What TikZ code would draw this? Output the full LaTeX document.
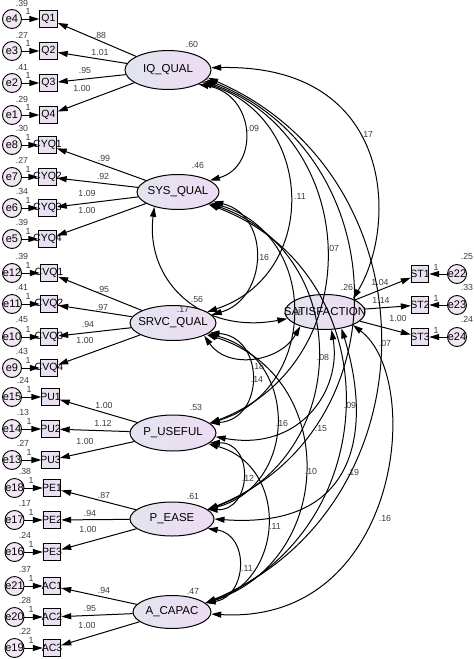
\documentclass[tikz,border=0pt]{standalone}
\usepackage{fontspec}
\setmainfont{Liberation Sans}
\usetikzlibrary{arrows.meta,shapes.geometric}
\pgfdeclarelayer{bg}
\pgfsetlayers{bg,main}
\definecolor{latL}{RGB}{226,228,240}
\definecolor{latR}{RGB}{238,220,242}
\definecolor{boxF}{RGB}{234,224,242}
\definecolor{errF}{RGB}{242,230,244}
\definecolor{numC}{RGB}{60,60,60}
\newcommand{\zbx}[1]{\makebox[0pt]{#1}}
\tikzset{
  lat/.style={ellipse, draw, line width=1pt, inner sep=0pt, left color=latL, right color=latR, font=\fontsize{11.5}{13}\selectfont},
  obs/.style={rectangle, draw, line width=0.9pt, fill=boxF, minimum width=17.5pt, minimum height=17.5pt, inner sep=0pt, font=\fontsize{10.5}{12}\selectfont},
  err/.style={circle, draw, line width=0.9pt, fill=errF, minimum size=19pt, inner sep=0pt, font=\fontsize{11}{12}\selectfont},
  num/.style={inner sep=0pt, text=numC, font=\fontsize{8.8}{10}\selectfont},
  ld/.style={line width=1pt, -{Triangle[length=10pt,width=6pt]}},
  cov/.style={line width=1pt, {Triangle[length=10pt,width=6pt]}-{Triangle[length=10pt,width=6pt]}},
}
\begin{document}
\begin{tikzpicture}[x=1pt,y=-1pt]
\useasboundingbox (0,0) rectangle (474,659);

% latent variables
\node[lat, minimum width=86pt, minimum height=39pt] (iq) at (168,70) {\zbx{IQ\_QUAL}};
\node[lat, minimum width=82pt, minimum height=35pt] (sys) at (178,192) {\zbx{SYS\_QUAL}};
\node[lat, minimum width=86pt, minimum height=35pt] (srvc) at (173,323) {\zbx{SRVC\_QUAL}};
\node[lat, minimum width=86pt, minimum height=36pt] (pu) at (173,433) {\zbx{P\_USEFUL}};
\node[lat, minimum width=84pt, minimum height=34pt] (pe) at (172,519) {\zbx{P\_EASE}};
\node[lat, minimum width=78pt, minimum height=33pt] (ac) at (172,612) {\zbx{A\_CAPAC}};
\node[lat, minimum width=80pt, minimum height=35pt] (sat) at (325,312) {\zbx{SATISFACTION}};

% indicators
\foreach \en/\bn/\bt/\yy/\vv in {e4/q1/Q1/19/.39, e3/q2/Q2/51/.27, e2/q3/Q3/83/.41, e1/q4/Q4/115/.29}{
  \node[err] (\en) at (12,\yy) {\zbx{\en}};
  \node[obs] (\bn) at (48.5,\yy) {\zbx{\bt}};
  \draw[ld] (\en) -- (\bn);
  \draw[ld] (iq) -- (\bn);
  \node[num] at (22,\yy-16) {\vv};
  \node[num] at (28,\yy-8) {1};
}
\foreach \en/\bn/\bt/\yy/\vv in {e8/cyq1/CYQ1/145/.30, e7/cyq2/CYQ2/177/.27, e6/cyq3/CYQ3/208/.34, e5/cyq4/CYQ4/239/.39}{
  \node[err] (\en) at (12,\yy) {\zbx{\en}};
  \node[obs] (\bn) at (47.5,\yy) {\zbx{\bt}};
  \draw[ld] (\en) -- (\bn);
  \draw[ld] (sys) -- (\bn);
  \node[num] at (22,\yy-17) {\vv};
  \node[num] at (28,\yy-8) {1};
}
\foreach \en/\bn/\bt/\yy/\vv in {e12/cvq1/CVQ1/273/.39, e11/cvq2/CVQ2/304/.41, e10/cvq3/CVQ3/337/.45, e9/cvq4/CVQ4/368/.43}{
  \node[err] (\en) at (12,\yy) {\zbx{\en}};
  \node[obs] (\bn) at (49,\yy) {\zbx{\bt}};
  \draw[ld] (\en) -- (\bn);
  \draw[ld] (srvc) -- (\bn);
  \node[num] at (22,\yy-17) {\vv};
  \node[num] at (28,\yy-8) {1};
}
\foreach \en/\bn/\bt/\yy/\vv in {e15/pu1/PU1/397/.24, e14/pu2/PU2/429/.13, e13/pu3/PU3/460/.27}{
  \node[err] (\en) at (12,\yy) {\zbx{\en}};
  \node[obs] (\bn) at (50.5,\yy) {\zbx{\bt}};
  \draw[ld] (\en) -- (\bn);
  \draw[ld] (pu) -- (\bn);
  \node[num] at (23,\yy-17) {\vv};
  \node[num] at (29,\yy-8) {1};
}
\foreach \en/\bn/\bt/\yy/\vv in {e18/pe1/PE1/488/.38, e17/pe2/PE2/520/.17, e16/pe3/PE3/552/.24}{
  \node[err] (\en) at (14.5,\yy) {\zbx{\en}};
  \node[obs] (\bn) at (52,\yy) {\zbx{\bt}};
  \draw[ld] (\en) -- (\bn);
  \draw[ld] (pe) -- (\bn);
  \node[num] at (25,\yy-17) {\vv};
  \node[num] at (31,\yy-8) {1};
}
\foreach \en/\bn/\bt/\yy/\vv in {e21/ac1/AC1/586/.37, e20/ac2/AC2/617/.28, e19/ac3/AC3/648/.22}{
  \node[err] (\en) at (14.5,\yy) {\zbx{\en}};
  \node[obs] (\bn) at (52,\yy) {\zbx{\bt}};
  \draw[ld] (\en) -- (\bn);
  \draw[ld] (ac) -- (\bn);
  \node[num] at (25,\yy-17) {\vv};
  \node[num] at (31,\yy-8) {1};
}
\foreach \en/\bn/\bt/\yy/\vv in {e22/st1/ST1/274/.25, e23/st2/ST2/305/.33, e24/st3/ST3/337/.24}{
  \node[err] (\en) at (457,\yy) {\zbx{\en}};
  \node[obs] (\bn) at (420,\yy) {\zbx{\bt}};
  \draw[ld] (\en) -- (\bn);
  \draw[ld] (sat) -- (\bn);
  \node[num] at (467,\yy-18) {\vv};
  \node[num] at (436,\yy-7) {1};
}

% loading labels
\foreach \xx/\yy/\tt in {100/35/.88, 100/52/1.01, 85/70/.95, 82/88/1.00,
  104/158/.99, 103/176/.92, 87/193/1.09, 87/210/1.00,
  103/289/.95, 102/307/.97, 88/324/.94, 85/340/1.00,
  104/405/1.00, 103/423/1.12, 85/441/1.00,
  104/495/.87, 90/513/.94, 88/529/1.00,
  104/590/.94, 90/608/.95, 87/625/1.00,
  380/282/1.04, 381/300/1.14, 398/318/1.00}{
  \node[num] at (\xx,\yy) {\tt};
}
% latent variances
\foreach \xx/\yy/\tt in {192/44/.60, 198/165/.46, 197/299/.56, 196/407/.53, 193/496/.61, 193/591/.47, 347/287/.26}{
  \node[num] at (\xx,\yy) {\tt};
}

% covariances
\begin{pgfonlayer}{bg}
\draw[cov] (sys.-148) .. controls (145,280) and (200,335) .. (sat.190);
\end{pgfonlayer}
\draw[cov] (iq.-25) .. controls (255.7,94.6) and (259.7,166.4) .. (sys.20);
\draw[cov] (iq.-20) .. controls (315.7,118.3) and (319.7,274.7) .. (srvc.18);
\draw[cov] (iq.-17) .. controls (363.7,139.3) and (367.7,363.7) .. (pu.15);
\draw[cov] (iq.-14) .. controls (399.7,157.3) and (401.7,432.7) .. (pe.15);
\draw[cov] (iq.-11) .. controls (437,177.1) and (437,505.9) .. (ac.15);
\draw[cov] (iq.3) .. controls (395,64) and (398,225) .. (sat.25);
\draw[cov] (sys.-15) .. controls (271.4,215.6) and (267.7,298.7) .. (srvc.12);
\draw[cov] (sys.-18) .. controls (321.3,235.1) and (318.3,389.9) .. (pu.15);
\draw[cov] (sys.-20) .. controls (356,254.2) and (351,457.8) .. (pe.15);
\draw[cov] (sys.-22) .. controls (393.3,274.2) and (386.3,530.8) .. (ac.15);
\draw[cov] (srvc.-15) .. controls (265,336.9) and (265,419.1) .. (pu.15);
\draw[cov] (srvc.-17) .. controls (299.7,357.2) and (297.7,485.8) .. (pe.15);
\draw[cov] (srvc.-19) .. controls (339.7,375.6) and (335.7,560.4) .. (ac.15);
\draw[cov] (srvc.-22) .. controls (228,370) and (280,362) .. (sat.-150);
\draw[cov] (pu.-15) .. controls (254.3,442.3) and (252.3,510.7) .. (pe.15);
\draw[cov] (pu.-17) .. controls (289,466.3) and (285,579.7) .. (ac.15);
\draw[cov] (pe.-15) .. controls (249.7,534.8) and (247.7,596.2) .. (ac.15);
\draw[cov] (sat.-70) .. controls (342,390) and (300,452) .. (pu.-5);
\draw[cov] (sat.-45) .. controls (370,420) and (365,530) .. (pe.0);
\draw[cov] (sat.-25) .. controls (425,380) and (400,625) .. (ac.-3);

% covariance labels
\foreach \xx/\yy/\tt in {253/128/.09, 300/196/.11, 333/248/.07, 385/343/.07, 367/134/.17,
  263/257/.16, 297/312/.08, 323/357/.08, 350/405/.09, 257/379/.14, 258/366/.18,
  282/423/.16, 311/471/.10, 248/478/.12, 275/526/.11, 247/568/.11,
  321/429/.15, 353/472/.19, 385/518/.16, 183/309/.17}{
  \node[num] at (\xx,\yy) {\tt};
}
\end{tikzpicture}
\end{document}
